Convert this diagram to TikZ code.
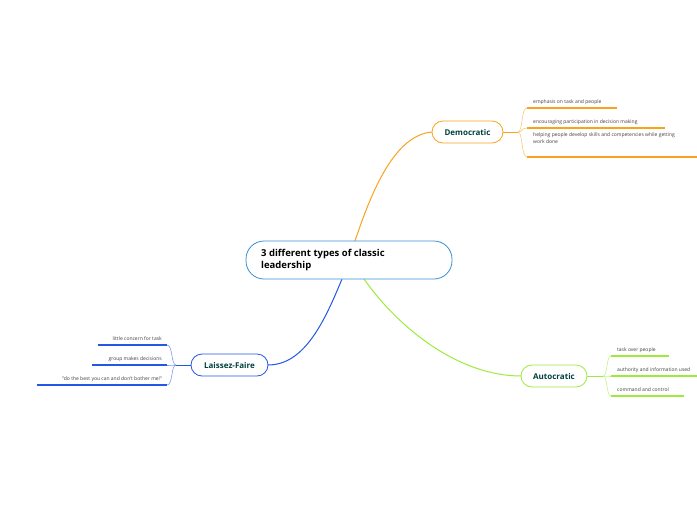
\documentclass[tikz,border=0pt]{standalone}
\usepackage{fontspec}
\setmainfont{Open Sans}
\begin{document}
\begin{tikzpicture}[x=1pt,y=-1pt,
 main/.style={draw,rounded corners=11pt,line width=0.8pt,fill=white,font=\fontsize{8}{10}\selectfont\bfseries,text=teal!50!black},
 leaf/.style={font=\fontsize{5}{7}\selectfont,text=black!75,inner sep=0pt},
 br/.style={line width=0.8pt}]
\useasboundingbox (0,0) rectangle (697,520);
\definecolor{dem}{HTML}{F9A21E}
\definecolor{aut}{HTML}{9CEB3A}
\definecolor{lai}{HTML}{2456E8}
\definecolor{cen}{HTML}{3A8FD6}
% connectors to main
\coordinate (ct) at (355,241);
\coordinate (cb1) at (364,279);
\coordinate (cb2) at (342,279);
\draw[dem,line width=1pt] (ct) .. controls (372,190) and (395,135) .. (432,132);
\draw[aut,line width=1pt] (cb1) .. controls (400,330) and (460,376) .. (521,376);
\draw[lai,line width=1pt] (cb2) .. controls (325,320) and (305,365) .. (268,365);
\node[draw=cen,line width=0.8pt,rounded corners=18pt,fill=white,minimum width=206pt,minimum height=38pt,
 font=\fontsize{9.5}{12}\selectfont\bfseries,text=black] (c) at (349,260) {};
\node[anchor=west,align=left,font=\fontsize{9.5}{12}\selectfont\bfseries,inner sep=0pt] (ctext) at (261,260) {3 different types of classic\\leadership};
\node[main,draw=dem,minimum width=71pt,minimum height=22pt] (d) at (467.5,132) {Democratic};
\node[main,draw=aut,minimum width=66pt,minimum height=22pt] (a) at (554,376) {Autocratic};
\node[main,draw=lai,minimum width=77pt,minimum height=22pt] (l) at (229.5,365) {Laissez-Faire};
% Democratic leaves
\coordinate (dj) at (518,132);
\draw[dem,br] (d.east) -- (dj);
\foreach \y/\e in {108/617,128/665,157/697}{
 \draw[dem!60,line width=0.6pt] (dj) .. controls (523,132) and (521,\y) .. (527,\y);
 \draw[dem,line width=1.2pt] (527,\y) -- (\e,\y);}
\node[leaf,anchor=base west] (d1) at (533,103) {emphasis on task and people};
\node[leaf,anchor=base west] (d2) at (533,123) {encouraging participation in decision making};
\node[leaf,anchor=base west,align=left] (d3) at (533,143) {helping people develop skills and competencies while getting\\work done};
% Autocratic leaves
\coordinate (aj) at (603,376);
\draw[aut,br] (a.east) -- (aj);
\foreach \y/\e in {356/669,376/697,396/684}{
 \draw[aut!60,line width=0.6pt] (aj) .. controls (608,376) and (606,\y) .. (611,\y);
 \draw[aut,line width=1.2pt] (611,\y) -- (\e,\y);}
\node[leaf,anchor=base west] (a1) at (617,351) {task over people};
\node[leaf,anchor=base west] (a2) at (617,371) {authority and information used};
\node[leaf,anchor=base west] (a3) at (617,391) {command and control};
% Laissez-faire leaves
\coordinate (lj) at (176,365);
\draw[lai,br] (l.west) -- (lj);
\foreach \y/\s in {345/98,365/92,385/37}{
 \draw[lai!60,line width=0.6pt] (lj) .. controls (171,365) and (173,\y) .. (167,\y);
 \draw[lai,line width=1.2pt] (\s,\y) -- (167,\y);}
\node[leaf,anchor=base east] (l1) at (162,340) {little concern for task};
\node[leaf,anchor=base east] (l2) at (162,360) {group makes decisions};
\node[leaf,anchor=base east] (l3) at (162,380) {"do the best you can and don't bother me!"};
\end{tikzpicture}
\end{document}
